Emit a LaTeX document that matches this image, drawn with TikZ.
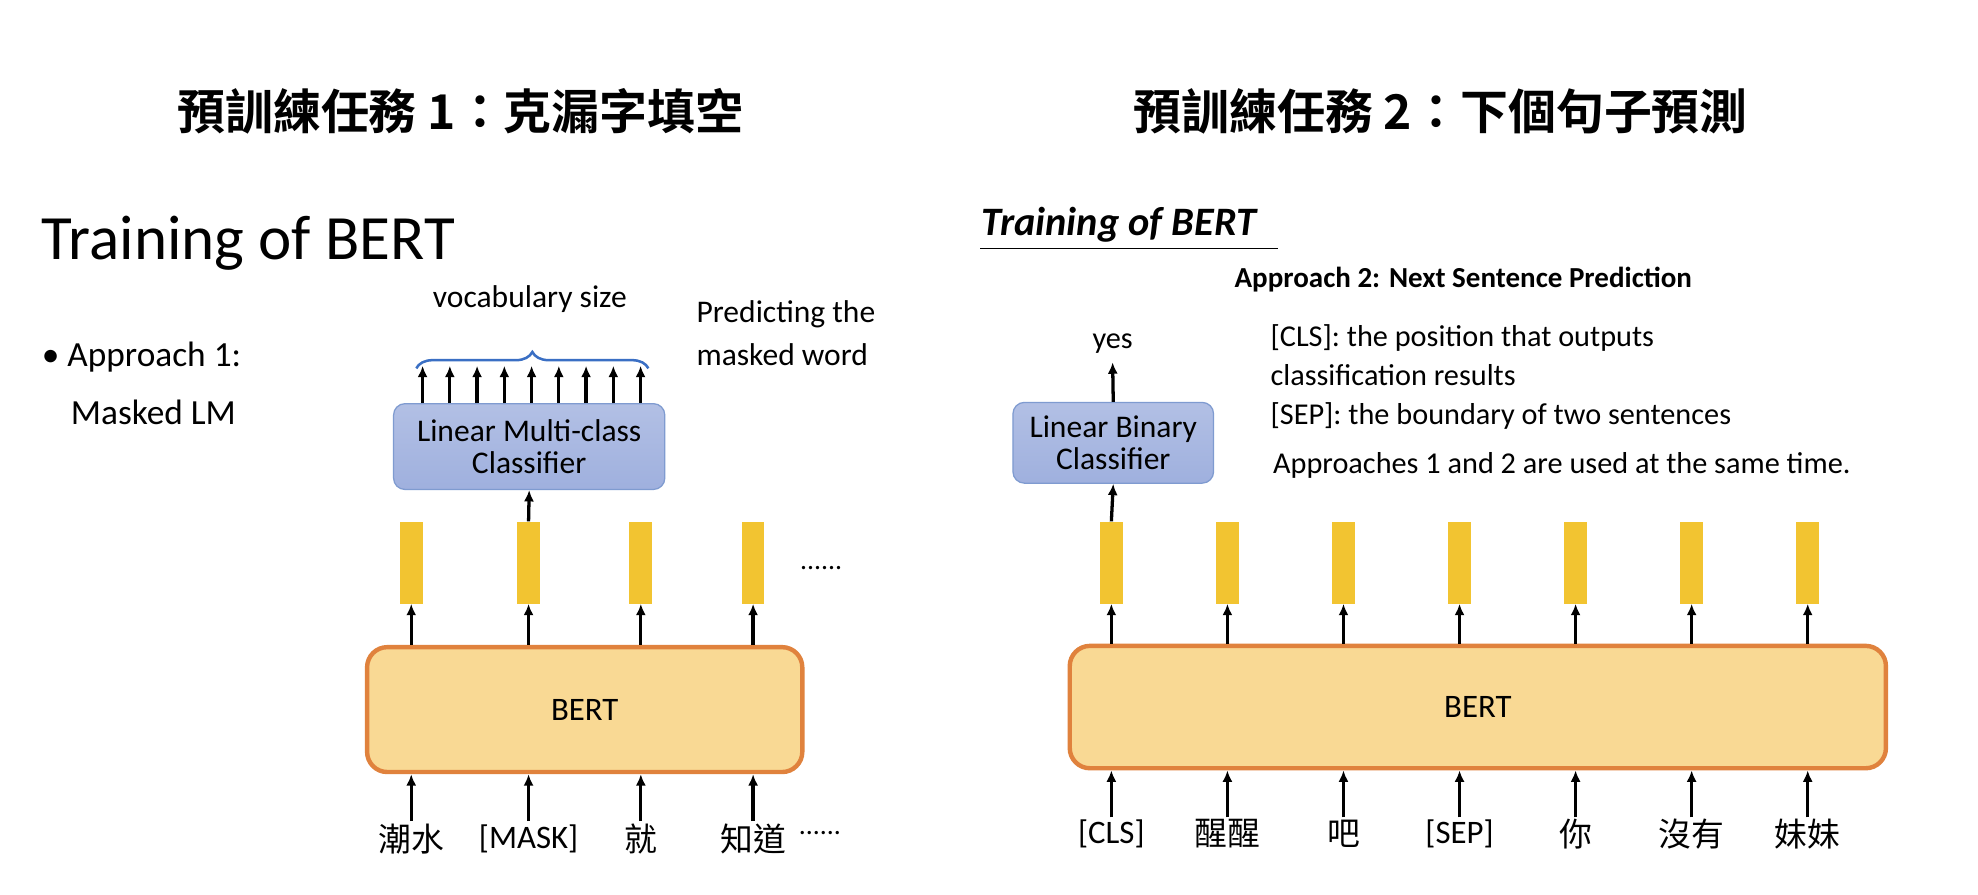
\documentclass[tikz,border=0pt]{standalone}
\usepackage{fontspec}
\setmainfont{Carlito}
\newfontfamily\cjk{Noto Sans CJK TC}
\newfontfamily\cjkb{Noto Sans CJK TC}[BoldFont={* Bold}]
\usetikzlibrary{arrows.meta,decorations.pathreplacing}
\definecolor{vecy}{HTML}{F2C431}
\definecolor{bertf}{HTML}{F9D994}
\definecolor{bertd}{HTML}{E0823D}
\definecolor{clsf}{HTML}{9FB0DE}
\definecolor{clsd}{HTML}{7F9BD0}
\definecolor{brc}{HTML}{3A6FC4}
\newcommand{\fs}[1]{\fontsize{#1}{#1}\selectfont}
\begin{document}
\begin{tikzpicture}[x=1pt,y=-1pt,
  arr/.style={line width=2.6pt,-{Latex[length=9pt,width=8pt]}},
  vec/.style={fill=vecy,draw=none,minimum width=18pt,minimum height=65pt,inner sep=0},
  bert/.style={rounded corners=16pt,fill=bertf,draw=bertd,line width=3.5pt,font=\fs{26}},
  clsbox/.style={rounded corners=9pt,top color=clsf!80!white,bottom color=clsf,draw=clsd,line width=1pt,align=center,font=\fs{25},inner sep=2pt},
  lab/.style={font=\fs{26}},
  txt/.style={font=\fs{25},anchor=west,inner sep=0}]
\useasboundingbox[fill=white] (0,0) rectangle (1568,709);
% titles
\node[font=\fs{38}\cjkb\bfseries] (t1) at (365,88) {預訓練任務 1：克漏字填空};
\node[font=\fs{38}\cjkb\bfseries] (t2) at (1142,88) {預訓練任務 2：下個句子預測};
% ---- left panel
\node[font=\fs{50},anchor=west,inner sep=0] (tr1) at (33,193) {Training of BERT};
\node[txt,font=\fs{28}] (ap1) at (33,283) {\textbullet\ Approach 1:};
\node[txt,font=\fs{28}] (ml) at (56,327) {Masked LM};
\node[txt] (pr) at (552,249) {Predicting the};
\node[txt] (pr2) at (552,281) {masked word};
\node[font=\fs{25}] (voc) at (420,237) {vocabulary size};
\node[clsbox,minimum width=215pt,minimum height=68pt] (lmc) at (419.5,354) {Linear Multi-class\\Classifier};
\draw[brc,line width=2pt,decorate,decoration={brace,amplitude=13pt}] (330,292) -- (514,292);
\foreach \i in {0,...,8}{
  \coordinate (o\i) at ({335+\i*21.6},290);
  \draw[arr] (lmc.north -| o\i) -- (o\i);
}
\node[bert,minimum width=345pt,minimum height=99pt] (b1) at (463.5,562.5) {BERT};
\foreach \n/\x/\w in {1/326/{\cjk 潮水},2/419/{[MASK]},3/508/{\cjk 就},4/597/{\cjk 知道}}{
  \node[vec] (v\n) at (\x,446) {};
  \draw[arr] (b1.north -| v\n) -- (v\n.south);
  \node[lab] (in\n) at (\x,665) {\w};
  \draw[arr] (\x,651) -- (b1.south -| v\n);
}
\draw[arr] (v2.north) -- (lmc.south);
\node[font=\fs{22}] (dots1) at (651,450) {......};
\node[font=\fs{22}] (dots2) at (650,660) {......};
% ---- right panel
\node[font=\fs{32}\bfseries\itshape,anchor=west,inner sep=0] (tr2) at (778,178) {Training of BERT};
\draw[line width=1pt] (777,197) -- (1013,197);
\node[font=\fs{23}\bfseries] (ap2) at (1160,222) {Approach 2: Next Sentence Prediction};
\node[font=\fs{24}] (yes) at (882,272) {yes};
\node[txt,font=\fs{24}] (l1) at (1007,268) {[CLS]: the position that outputs};
\node[txt,font=\fs{24}] (l2) at (1007,297) {classification results};
\node[txt,font=\fs{24}] (l3) at (1007,330) {[SEP]: the boundary of two sentences};
\node[txt,font=\fs{24}] (l4) at (1009,369) {Approaches 1 and 2 are used at the same time.};
\node[clsbox,minimum width=159pt,minimum height=64pt] (lbc) at (882.5,351) {Linear Binary\\Classifier};
\draw[arr] (lbc.north) -- ([yshift=-4pt]yes.south);
\node[bert,minimum width=647pt,minimum height=97pt] (b2) at (1171.5,560.5) {BERT};
\foreach \n/\x/\w in {1/881/{[CLS]},2/973/{\cjk 醒醒},3/1065/{\cjk 吧},4/1157/{[SEP]},5/1249/{\cjk 你},6/1341/{\cjk 沒有},7/1433/{\cjk 妹妹}}{
  \node[vec] (r\n) at (\x,446) {};
  \draw[arr] (b2.north -| r\n) -- (r\n.south);
  \node[lab] (rin\n) at (\x,661) {\w};
  \draw[arr] (\x,648) -- (b2.south -| r\n);
}
\draw[arr] (r1.north) -- (lbc.south);
\end{tikzpicture}
\end{document}
